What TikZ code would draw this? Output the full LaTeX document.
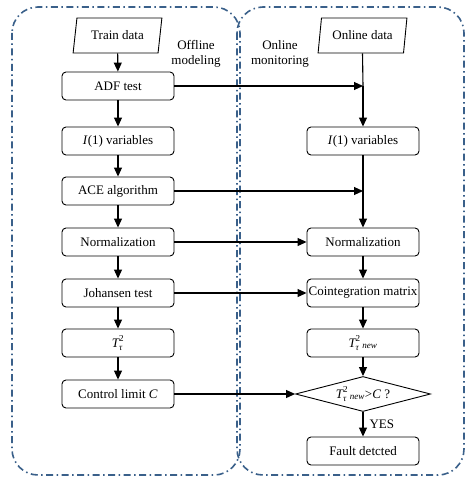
\documentclass[tikz,border=0pt]{standalone}
\usepackage{amsmath}
\usepackage{fontspec}
\setmainfont{Liberation Serif}
\usetikzlibrary{shapes.geometric,arrows.meta}
\definecolor{contc}{RGB}{58,96,138}
\begin{document}
\begin{tikzpicture}[x=1pt,y=-1pt,
  every node/.style={font=\fontsize{13}{15.5}\selectfont},
  box/.style={draw, line width=0.9pt, rounded corners=4pt, minimum width=112pt, minimum height=28pt, inner sep=1pt},
  para/.style={draw, line width=0.9pt, trapezium, trapezium left angle=77, trapezium right angle=103, trapezium stretches, minimum width=89pt, minimum height=35pt, inner sep=1pt},
  dia/.style={draw, line width=0.9pt, diamond, aspect=3.86, minimum width=135pt, minimum height=35pt, inner sep=0pt},
  arr/.style={line width=1.1pt, -{Triangle[length=9pt,width=8pt]}},
  ln/.style={line width=1.1pt},
  container/.style={draw=contc, line width=1.6pt, rounded corners=26pt, dash pattern=on 7pt off 3.5pt on 1.5pt off 3.5pt},
  lbl/.style={align=center, inner sep=0pt}
]
\useasboundingbox (0,0) rectangle (474,486);
\draw[container] (12,7) rectangle (240,475);
\draw[container] (237,7) rectangle (464,475);

\node[para] (train) at (117.5,35.5) {Train data};
\node[para] (online) at (362.5,35.5) {Online data};
\node[lbl] (offl) at (196,54) {Offline\\modeling};
\node[lbl] (onl) at (280,54) {Online\\monitoring};

\node[box] (adf) at (118,86) {ADF test};
\node[box] (i1L) at (118,141) {\textit{I}(1) variables};
\node[box] (ace) at (118,191) {ACE algorithm};
\node[box] (normL) at (118,242) {Normalization};
\node[box] (joh) at (118,293) {Johansen test};
\node[box] (tL) at (118,343) {$\textit{T}_{\textit{τ}}^{\text{2}}$};
\node[box] (ctrl) at (118,394) {Control limit \textit{C}};

\node[box] (i1R) at (363,141) {\textit{I}(1) variables};
\node[box] (normR) at (363,242) {Normalization};
\node[box] (coint) at (363,293) {Cointegration matrix};
\node[box] (tR) at (363,343) {$\textit{T}_{\textit{τ}}^{\text{2}}{}_{\,\textit{new}}$};
\node[dia] (dec) at (363,394) {$\textit{T}_{\textit{τ}}^{\text{2}}{}_{\,\textit{new}}$>\textit{C} ?};
\node[box] (fault) at (363,451) {Fault detcted};

\coordinate (j1) at (363,86);
\coordinate (j2) at (363,191);

\draw[arr] (train) -- (adf);
\draw[arr] (adf) -- (i1L);
\draw[arr] (i1L) -- (ace);
\draw[arr] (ace) -- (normL);
\draw[arr] (normL) -- (joh);
\draw[arr] (joh) -- (tL);
\draw[arr] (tL) -- (ctrl);

\draw[arr] (adf.east) -- (j1);
\draw[ln] (online.south) -- (j1);
\draw[arr] (j1) -- (i1R.north);
\draw[arr] (ace.east) -- (j2);
\draw[ln] (i1R.south) -- (j2);
\draw[arr] (j2) -- (normR.north);
\draw[arr] (normL) -- (normR);
\draw[arr] (joh) -- (coint);
\draw[arr] (normR) -- (coint);
\draw[arr] (coint) -- (tR);
\draw[arr] (tR) -- (dec);
\draw[arr] (ctrl) -- (dec);
\draw[arr] (dec) -- node[right, inner sep=6pt] {YES} (fault);
\end{tikzpicture}
\end{document}
